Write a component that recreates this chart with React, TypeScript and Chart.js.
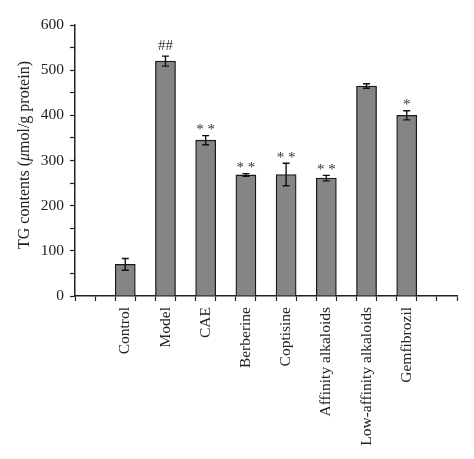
import { useEffect, useRef } from "react"
import { Chart, registerables } from "chart.js"

Chart.register(...registerables)

// groups along the x axis
const categories = [
  "Control",
  "Model",
  "CAE",
  "Berberine",
  "Coptisine",
  "Affinity alkaloids",
  "Low-affinity alkaloids",
  "Gemfibrozil",
]
// TG contents (mean) and error (±)
const tgValues = [70, 520, 345, 268, 269, 261, 465, 400]
const tgErrors = [13, 11, 10, 3, 25, 6, 5, 10]
// significance marks above each bar
const marks = ["", "##", "**", "**", "**", "**", "", "*"]

const SERIF = "'Liberation Serif', 'Times New Roman', serif"

const errorBarPlugin = {
  id: "errorBars",
  afterDatasetsDraw(chart: Chart) {
    const { ctx } = chart
    const xs = chart.scales.x
    const ys = chart.scales.y
    ctx.save()
    ctx.strokeStyle = "#111"
    ctx.lineWidth = 1.4
    tgValues.forEach((v, i) => {
      const x = xs.getPixelForValue(i + 1)
      const top = ys.getPixelForValue(v + tgErrors[i])
      const bot = ys.getPixelForValue(v - tgErrors[i])
      ctx.beginPath()
      ctx.moveTo(x, top)
      ctx.lineTo(x, bot)
      ctx.moveTo(x - 3.5, top)
      ctx.lineTo(x + 3.5, top)
      ctx.moveTo(x - 3.5, bot)
      ctx.lineTo(x + 3.5, bot)
      ctx.stroke()
      if (marks[i]) {
        ctx.fillStyle = "#333"
        ctx.font = `15px ${SERIF}`
        ctx.textAlign = "center"
        ctx.textBaseline = "bottom"
        const isHash = marks[i] === "##"
        const txt = isHash ? marks[i] : marks[i].split("").join(" ")
        ctx.fillText(txt, x, top - (isHash ? 3 : -2))
      }
    })
    ctx.restore()
  },
}

const yTitlePlugin = {
  id: "yTitle",
  afterDraw(chart: Chart) {
    const { ctx } = chart
    const parts: [string, boolean][] = [
      ["TG contents (", false],
      ["\u03bc", true],
      ["mol/g protein)", false],
    ]
    ctx.save()
    ctx.translate(25, 155)
    ctx.rotate(-Math.PI / 2)
    ctx.fillStyle = "#222"
    ctx.textBaseline = "middle"
    ctx.textAlign = "left"
    const fontFor = (it: boolean) => `${it ? "italic " : ""}16px ${SERIF}`
    let total = 0
    parts.forEach(([t, it]) => {
      ctx.font = fontFor(it)
      total += ctx.measureText(t).width
    })
    let x = -total / 2
    parts.forEach(([t, it]) => {
      ctx.font = fontFor(it)
      ctx.fillText(t, x, 0)
      x += ctx.measureText(t).width
    })
    ctx.restore()
  },
}

export default function App() {
  const canvasRef = useRef<HTMLCanvasElement>(null)
  const chartRef = useRef<Chart | null>(null)

  useEffect(() => {
    if (!canvasRef.current) return
    if (chartRef.current) chartRef.current.destroy()

    chartRef.current = new Chart(canvasRef.current, {
      type: "bar",
      data: {
        datasets: [
          {
            data: tgValues.map((v, i) => ({ x: i + 1, y: v })),
            backgroundColor: "#858585",
            borderColor: "#1a1a1a",
            borderWidth: 1.3,
            categoryPercentage: 1,
            barPercentage: 1,
          },
        ],
      },
      plugins: [errorBarPlugin, yTitlePlugin],
      options: {
        animation: false,
        responsive: true,
        maintainAspectRatio: false,
        layout: { padding: { top: 25, right: 17, left: 0, bottom: 0 } },
        plugins: {
          legend: { display: false },
          tooltip: { enabled: false },
        },
        scales: {
          x: {
            type: "linear",
            min: 0,
            max: 9,
            afterFit: (scale) => {
              scale.height = 163
            },
            ticks: {
              stepSize: 0.5,
              autoSkip: false,
              minRotation: 90,
              maxRotation: 90,
              padding: 6,
              color: "#222",
              font: { family: SERIF, size: 15.5 },
              callback: (value) => {
                const v = Number(value)
                return Number.isInteger(v) && v >= 1 && v <= categories.length ? categories[v - 1] : ""
              },
            },
            grid: {
              drawOnChartArea: false,
              tickLength: 5,
              tickColor: "#222",
              tickWidth: 1.2,
            },
            border: { color: "#222", width: 1.5 },
          },
          y: {
            min: 0,
            max: 600,
            afterFit: (scale) => {
              scale.width = 75
            },
            ticks: {
              stepSize: 50,
              padding: 6,
              color: "#222",
              font: { family: SERIF, size: 15.5 },
              callback: (value) => (Number(value) % 100 === 0 ? String(value) : ""),
            },
            grid: {
              drawOnChartArea: false,
              tickLength: 5,
              tickColor: "#222",
              tickWidth: 1.2,
            },
            border: { color: "#222", width: 1.5 },
          },
        },
      },
    })

    return () => {
      if (chartRef.current) {
        chartRef.current.destroy()
        chartRef.current = null
      }
    }
  }, [])

  return (
    <div style={{ position: "absolute", left: 0, top: 0, width: 474, height: 459, background: "#fff" }}>
      <canvas ref={canvasRef}></canvas>
    </div>
  )
}
